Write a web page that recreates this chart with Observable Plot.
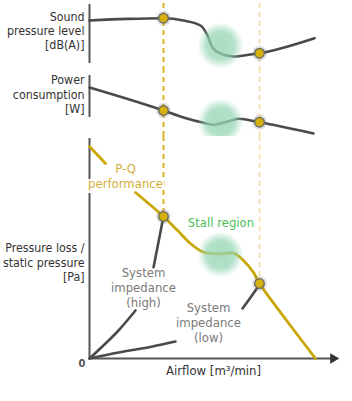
<!DOCTYPE html>
<html><head><meta charset="utf-8">
<script src="https://cdn.jsdelivr.net/npm/d3@7"></script>
<script src="https://cdn.jsdelivr.net/npm/@observablehq/plot@0.6"></script>
<style>
html,body{margin:0;padding:0;background:#fff;}
#chart{width:352px;height:401px;overflow:hidden;}
#chart svg{display:block;}
</style></head><body><div id="chart"></div>
<script>
// ---- data (relative units) ----
const soundAirflow = [0, 1.5, 2.96, 3.76, 4.44, 4.72, 4.92, 5.24, 5.76, 6.44, 6.8, 9.0];
const soundLevel   = [43, 44.6, 45.3, 43, 38, 28, 16, 10, 7, 9, 10.3, 25.3];

const powerAirflow = [0, 2.96, 3.76, 4.56, 4.96, 5.52, 5.96, 6.8, 8.96];
const powerValue   = [47, 24, 17, 11.7, 9.7, 13, 15.7, 12.3, 1];

const pqAirflow  = [0, 0.64, 1.84, 2.96, 3.44, 3.64, 4.04, 4.56, 5.24, 5.76, 6.16, 6.56, 6.8, 7.9, 9.04];
const pqPressure = [212, 195, 166, 142, 130, 125, 115, 106.3, 104.7, 105.3, 98, 86, 75, 37.5, 0];
const pqPart     = [1, 1, 2, 2, 2, 2, 2, 2, 2, 2, 2, 2, 2, 2, 2];

const highAirflow  = [0, 0.64, 1.16, 1.84, 2.56, 2.96];
const highPressure = [0, 15, 28, 48, 91, 142];
const highPart     = [1, 1, 1, 1, 2, 2];

const lowAirflow  = [0, 1.16, 2.52, 3.44, 6.12, 6.72, 6.8];
const lowPressure = [0, 6, 12, 17, 50, 71, 74];
const lowPart     = [1, 1, 1, 1, 2, 2, 2];

const opAirflow  = [2.96, 6.8];
const opSound    = [45.3, 10.3];
const opPower    = [24, 12.3];
const opPressure = [142, 75];

const stallAirflow  = [5.24];
const stallSound    = [18];
const stallPower    = [13];
const stallPressure = [104];

const labels = {
  sound: "Sound\npressure level\n[dB(A)]",
  power: "Power\nconsumption\n[W]",
  pressure: "Pressure loss /\nstatic pressure\n[Pa]",
  pq: "P-Q\nperformance",
  stall: "Stall region",
  high: "System\nimpedance\n(high)",
  low: "System\nimpedance\n(low)",
  xlabel: "Airflow [m³/min]",
  zero: "0"
};

// ---- styling ----
const FONT = "'DejaVu Sans Condensed', 'Liberation Sans', Arial, sans-serif";
const GRAY = "#4a4a4a";
const AXIS = "#555";
const GOLD = "#c9a705";
const DASH1 = "#dbb323";
const DASH2 = "#f2e2b0";

const zip2 = (xs, ys, extra) => xs.map((x, i) => ({x, y: ys[i], part: extra ? extra[i] : 1}));

function panel(height, marginTop, marginBottom, yDomain, marks) {
  const svg = Plot.plot({
    width: 352, height, marginLeft: 89, marginRight: 13, marginTop, marginBottom,
    x: {domain: [0, 10], axis: null},
    y: {domain: yDomain, axis: null},
    style: {fontFamily: FONT, background: "white", overflow: "hidden"},
    marks
  });
  const defs = d3.select(svg).insert("defs", ":first-child");
  const g = defs.append("radialGradient").attr("id", "stallGlow");
  g.append("stop").attr("offset", "0%").attr("stop-color", "#95d5b3").attr("stop-opacity", 0.8);
  g.append("stop").attr("offset", "60%").attr("stop-color", "#95d5b3").attr("stop-opacity", 0.72);
  g.append("stop").attr("offset", "100%").attr("stop-color", "#95d5b3").attr("stop-opacity", 0);
  return svg;
}

const opMarks = (vals) => [
  Plot.dot(zip2(opAirflow, vals), {x: "x", y: "y", r: 7.5, fill: "#777", fillOpacity: 0.22}),
  Plot.dot(zip2(opAirflow, vals), {x: "x", y: "y", r: 4.8, fill: "#d6b00c", stroke: "#666", strokeWidth: 1.3})
];
const blob = (vals) => Plot.dot(zip2(stallAirflow, vals), {x: "x", y: "y", r: 23, fill: "url(#stallGlow)"});
const leftLabel = (text, y) => Plot.text([text], {x: 0, y, dx: -5, textAnchor: "end", lineAnchor: "middle",
  lineHeight: 1.15, fontSize: 12.3, fill: "#333"});
const dashed = (x, y1, y2, color) => Plot.ruleX([x], {y1, y2, stroke: color, strokeWidth: 2, strokeDasharray: "5,4"});

const chart = document.getElementById("chart");

// Panel 1: sound pressure level
chart.append(panel(68, 3, 5, [0, 60], [
  Plot.ruleX([0], {y1: 0, y2: 59, stroke: AXIS, strokeWidth: 2}),
  dashed(opAirflow[0], 60, -6, DASH1),
  dashed(opAirflow[1], 60, -6, DASH2),
  Plot.line(zip2(soundAirflow, soundLevel), {x: "x", y: "y", stroke: GRAY, strokeWidth: 2.6, curve: "monotone-x"}),
  blob(stallSound),
  ...opMarks(opSound),
  leftLabel(labels.sound, 33)
]));

// Panel 2: power consumption
chart.append(panel(68, 6, 2, [0, 60], [
  Plot.ruleX([0], {y1: 17, y2: 59, stroke: AXIS, strokeWidth: 2}),
  dashed(opAirflow[0], 66, -2, DASH1),
  dashed(opAirflow[1], 66, -2, DASH2),
  Plot.line(zip2(powerAirflow, powerValue), {x: "x", y: "y", stroke: GRAY, strokeWidth: 2.6, curve: "monotone-x"}),
  blob(stallPower),
  ...opMarks(opPower),
  leftLabel(labels.power, 40.5)
]));

// Panel 3: pressure loss / static pressure
chart.append(panel(265, 2, 43, [0, 220], [
  Plot.ruleX([0], {y1: 0, y2: 220, stroke: AXIS, strokeWidth: 2}),
  Plot.ruleY([0], {x1: 0, x2: 9.75, stroke: AXIS, strokeWidth: 2}),
  Plot.dot([9.75], {x: d => d, y: 0, symbol: "triangle", r: 3.9, rotate: 90, fill: "#333"}),
  dashed(opAirflow[0], 222, opPressure[0], DASH1),
  dashed(opAirflow[1], 222, opPressure[1], DASH2),
  Plot.line(zip2(highAirflow, highPressure, highPart), {x: "x", y: "y", z: "part", stroke: GRAY, strokeWidth: 2.6, curve: "monotone-x"}),
  Plot.line(zip2(lowAirflow, lowPressure, lowPart), {x: "x", y: "y", z: "part", stroke: GRAY, strokeWidth: 2.6, curve: "monotone-x"}),
  Plot.line(zip2(pqAirflow, pqPressure, pqPart), {x: "x", y: "y", z: "part", stroke: GOLD, strokeWidth: 2.8, curve: "catmull-rom"}),
  blob(stallPressure),
  ...opMarks(opPressure),
  Plot.text([labels.pq], {x: 1.44, y: 183, lineAnchor: "middle", lineHeight: 1.2, fontSize: 13, fill: "#d3b03a", stroke: "white", strokeWidth: 4}),
  Plot.text([labels.stall], {x: 5.26, y: 136, fontSize: 13, fill: "#4dbf57"}),
  Plot.text([labels.high], {x: 2.16, y: 71, lineAnchor: "middle", lineHeight: 1.15, fontSize: 13, fill: "#7a7a7a", stroke: "white", strokeWidth: 4}),
  Plot.text([labels.low], {x: 4.76, y: 36, lineAnchor: "middle", lineHeight: 1.15, fontSize: 13, fill: "#7a7a7a", stroke: "white", strokeWidth: 4}),
  leftLabel(labels.pressure, 96.5),
  Plot.text([labels.zero], {x: 0, y: 0, dx: -4, dy: 5, textAnchor: "end", fontSize: 11, fontWeight: "bold", fill: "#555"}),
  Plot.text([labels.xlabel], {x: 4.96, y: -12, fontSize: 13, fill: "#333"})
]));
</script></body></html>
